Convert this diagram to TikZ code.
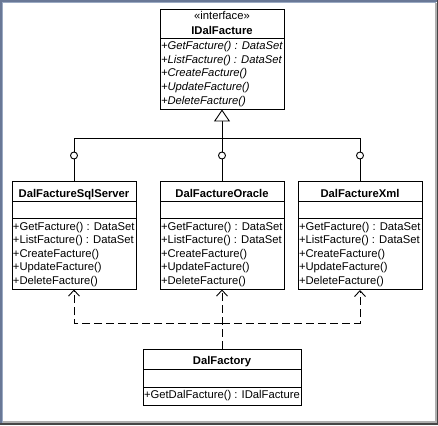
\documentclass[tikz,border=0pt]{standalone}
\usepackage{fontspec}
\setmainfont{Liberation Sans}
\usetikzlibrary{arrows.meta}
\definecolor{frameA}{RGB}{105,120,150}
\definecolor{frameB}{RGB}{155,170,195}
\definecolor{frameC}{RGB}{70,70,70}
\definecolor{frameD}{RGB}{175,175,175}
\tikzset{
  cls/.style={draw=black, line width=0.95bp, fill=white, inner sep=0pt, minimum width=124bp, minimum height=108bp},
  sepline/.style={line width=0.95bp},
  txt/.style={inner sep=0pt, anchor=base west, font=\fontsize{11.3}{13.5}\selectfont},
  itxt/.style={txt, font=\fontsize{11.3}{13.5}\selectfont\itshape},
  ttl/.style={inner sep=0pt, anchor=base, font=\fontsize{11.3}{13.5}\selectfont\bfseries},
  stereo/.style={inner sep=0pt, anchor=base, font=\fontsize{11.3}{13.5}\selectfont},
  lolli/.style={circle, draw=black, fill=white, line width=0.9bp, minimum size=7bp, inner sep=0pt},
  conn/.style={line width=0.9bp},
  dep/.style={line width=0.9bp, dash pattern=on 8bp off 4bp, -{Straight Barb[length=6bp,width=11bp]}}
}
\begin{document}
\begin{tikzpicture}[x=1bp,y=-1bp]
\useasboundingbox (0,0) rectangle (438,425);
% frame
\fill[white] (0,0) rectangle (438,425);
\fill[frameA] (0,0) rectangle (1.5,425);
\fill[frameA] (0,0) rectangle (438,1.5);
\fill[frameB] (1.5,1.5) rectangle (3,423);
\fill[frameB] (1.5,1.5) rectangle (436,3);
\fill[frameD] (3,421) rectangle (436,423);
\fill[frameD] (434.5,3) rectangle (436.5,423);
\fill[frameC] (0,423.3) rectangle (438,425);
\fill[frameC] (436.5,0) rectangle (438,425);

% interface
\node[cls, minimum height=100bp] (iface) at (222,59) {};
\draw[sepline] (160,38) -- (284,38);
\node[stereo] (ster) at (222,19.5) {«interface»};
\node[ttl] (ifname) at (222,34.3) {IDalFacture};
\foreach \t [count=\i] in {{+GetFacture() : DataSet},{+ListFacture() : DataSet},{+CreateFacture()},{+UpdateFacture()},{+DeleteFacture()}}
  \node[itxt] (im\i) at (160.8,{49.3+13.75*(\i-1)}) {\t};

% implementing classes
\node[cls] (box1) at (74,235) {};
\node[cls] (box2) at (222,235) {};
\node[cls] (box3) at (360,235.5) {};
\foreach \b/\x/\n in {box1/74/DalFactureSqlServer, box2/222/DalFactureOracle, box3/360/DalFactureXml} {
  \draw[sepline] (\x-62,201) -- (\x+62,201);
  \draw[sepline] (\x-62,218.5) -- (\x+62,218.5);
  \node[ttl] (\b t) at (\x,197) {\n};
  \foreach \t [count=\i] in {{+GetFacture() : DataSet},{+ListFacture() : DataSet},{+CreateFacture()},{+UpdateFacture()},{+DeleteFacture()}}
    \node[txt] (\b m\i) at (\x-61.2,{230+13.5*(\i-1)}) {\t};
}

% factory
\node[cls, minimum width=158bp, minimum height=56bp] (fac) at (222,377) {};
\draw[sepline] (143,369) -- (301,369);
\draw[sepline] (143,387) -- (301,387);
\node[ttl] (fact) at (222,364.5) {DalFactory};
\node[txt] (facm1) at (143.8,398.5) {+GetDalFacture() : IDalFacture};

% generalisation / realisation
\coordinate (gj) at (222,138);
\draw[conn] (box1.north) -- (box1.north |- gj) -- (box3.north |- gj) -- (box3.north);
\draw[conn] (box2.north) -- (gj);
\draw[conn, -{Triangle[open,length=12bp,width=16bp,fill=white]}] (gj) -- (iface.south);
\node[lolli] (c1) at (74,155.5) {};
\node[lolli] (c2) at (222,155.5) {};
\node[lolli] (c3) at (360,155.5) {};

% dependencies
\coordinate (dj) at (222,323);
\draw[dep] (fac.north) -- (box2.south);
\draw[dep] (dj) -| (box1.south);
\draw[dep] (dj) -| (box3.south);
\end{tikzpicture}
\end{document}
